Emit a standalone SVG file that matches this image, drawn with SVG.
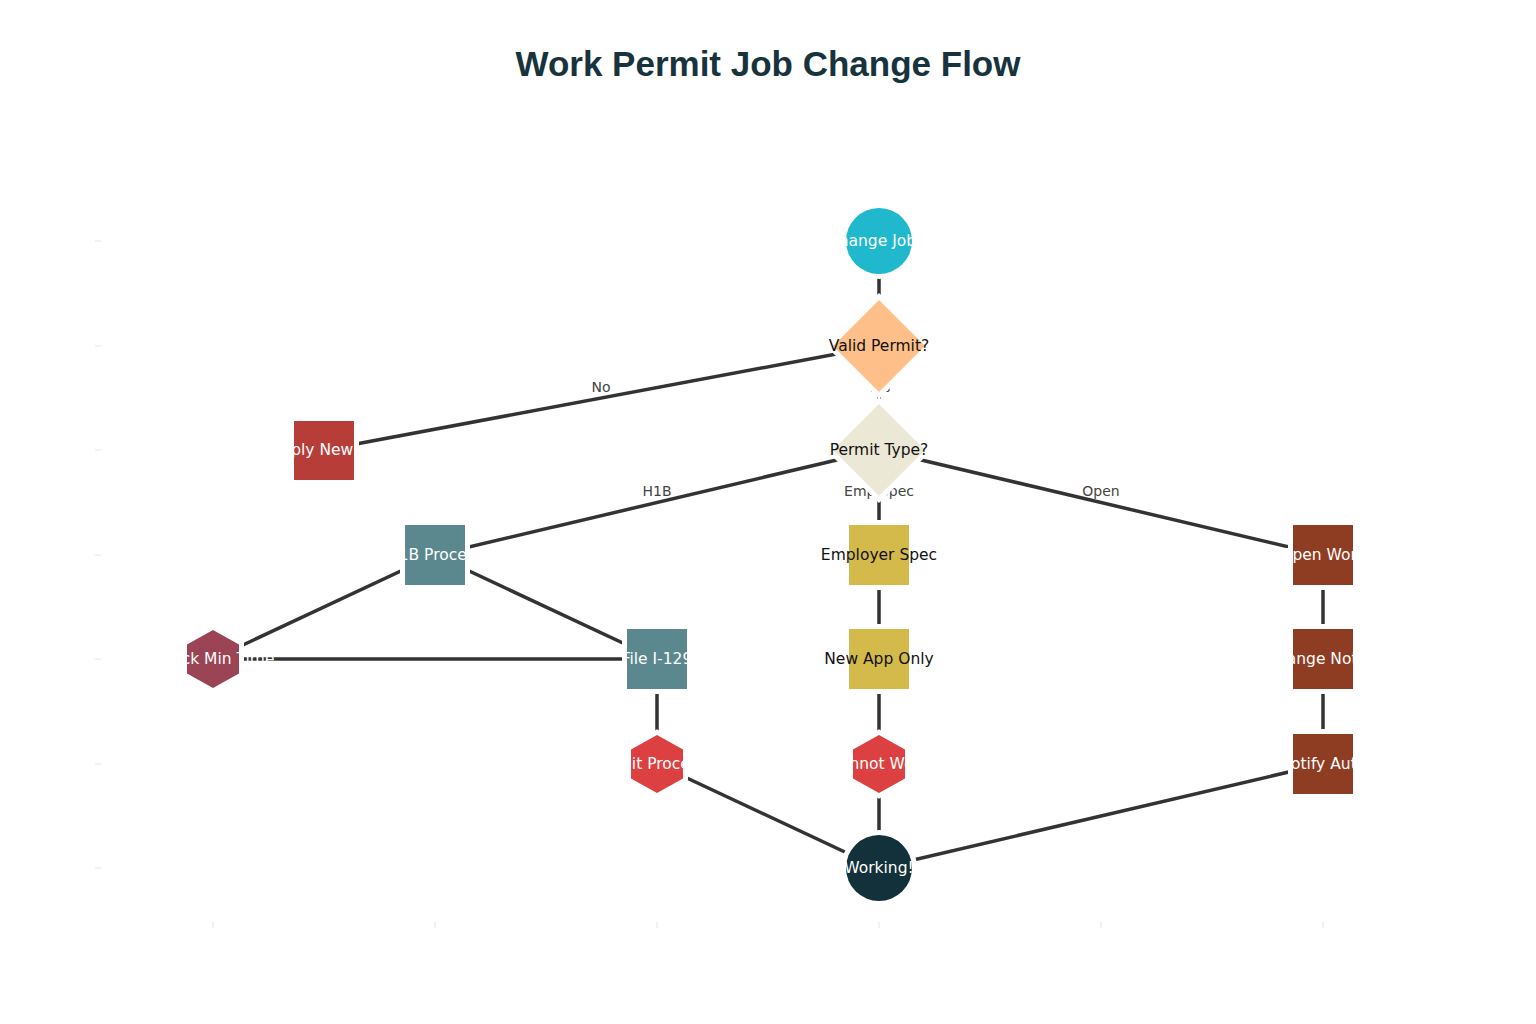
<svg xmlns="http://www.w3.org/2000/svg" width="1536" height="1024" viewBox="0 0 1536 1024">
<style>
.title{font-family:"Liberation Sans",Arial,sans-serif;font-weight:bold;font-size:35px;fill:#17333d}
.edge{stroke:#333;stroke-width:3.5;fill:none}
.elab{font-family:"DejaVu Sans",sans-serif;font-size:14px;fill:#444;text-anchor:middle}
.node{stroke:#fff;stroke-width:10;paint-order:stroke}
.nt{font-family:"DejaVu Sans",sans-serif;font-size:15.5px;fill:#fff;text-anchor:middle}
.nd{fill:#111}
.tick{stroke:#e4e4e4;stroke-width:1}
</style>
<rect width="1536" height="1024" fill="#fff"/>
<text class="title" x="768" y="76" text-anchor="middle">Work Permit Job Change Flow</text>
<g id="axes">
<line class="tick" x1="95" y1="241" x2="101" y2="241"/>
<line class="tick" x1="95" y1="346" x2="101" y2="346"/>
<line class="tick" x1="95" y1="450" x2="101" y2="450"/>
<line class="tick" x1="95" y1="555" x2="101" y2="555"/>
<line class="tick" x1="95" y1="659" x2="101" y2="659"/>
<line class="tick" x1="95" y1="764" x2="101" y2="764"/>
<line class="tick" x1="95" y1="868" x2="101" y2="868"/>
<line class="tick" x1="213" y1="922" x2="213" y2="928"/>
<line class="tick" x1="435" y1="922" x2="435" y2="928"/>
<line class="tick" x1="657" y1="922" x2="657" y2="928"/>
<line class="tick" x1="879" y1="922" x2="879" y2="928"/>
<line class="tick" x1="1101" y1="922" x2="1101" y2="928"/>
<line class="tick" x1="1323" y1="922" x2="1323" y2="928"/>
</g>
<g id="connectors">
<line class="edge" x1="879" y1="241" x2="879" y2="346"/>
<line class="edge" x1="879" y1="346" x2="324" y2="450"/>
<line class="edge" x1="879" y1="346" x2="879" y2="450"/>
<line class="edge" x1="879" y1="450" x2="435" y2="555"/>
<line class="edge" x1="879" y1="450" x2="879" y2="555"/>
<line class="edge" x1="879" y1="450" x2="1323" y2="555"/>
<line class="edge" x1="435" y1="555" x2="213" y2="659"/>
<line class="edge" x1="435" y1="555" x2="657" y2="659"/>
<line class="edge" x1="213" y1="659" x2="657" y2="659"/>
<line class="edge" x1="657" y1="659" x2="657" y2="764"/>
<line class="edge" x1="879" y1="555" x2="879" y2="659"/>
<line class="edge" x1="879" y1="659" x2="879" y2="764"/>
<line class="edge" x1="1323" y1="555" x2="1323" y2="659"/>
<line class="edge" x1="1323" y1="659" x2="1323" y2="764"/>
<line class="edge" x1="657" y1="764" x2="879" y2="868"/>
<line class="edge" x1="879" y1="764" x2="879" y2="868"/>
<line class="edge" x1="1323" y1="764" x2="879" y2="868"/>
<text class="elab" x="601" y="392">No</text>
<text class="elab" x="879" y="392">Yes</text>
<text class="elab" x="657" y="496">H1B</text>
<text class="elab" x="879" y="496">Emp Spec</text>
<text class="elab" x="1101" y="496">Open</text>
</g>
<g id="change-job"><circle class="node" cx="879" cy="241" r="33" fill="#1fb8cc"/><text class="nt" x="872" y="246">Change Job</text></g>
<g id="valid-permit"><polygon class="node" points="879,300 925,346 879,392 833,346" fill="#ffbf88"/><text class="nt nd" x="879" y="351">Valid Permit?</text></g>
<g id="apply-new"><rect class="node" x="294" y="421" width="60" height="59" fill="#b73d39"/><text class="nt" x="312" y="455">Apply New</text></g>
<g id="permit-type"><polygon class="node" points="879,404 925,450 879,496 833,450" fill="#ebe8d5"/><text class="nt nd" x="879" y="455">Permit Type?</text></g>
<g id="h1b-process"><rect class="node" x="405" y="525" width="60" height="60" fill="#5b888f"/><text class="nt" x="435" y="560">H1B Process</text></g>
<g id="employer-spec"><rect class="node" x="849" y="525" width="60" height="60" fill="#d4b94b"/><text class="nt nd" x="879" y="560">Employer Spec</text></g>
<g id="open-work"><rect class="node" x="1293" y="525" width="60" height="60" fill="#8f3d22"/><text class="nt" x="1323" y="560">Open Work</text></g>
<g id="check-min-time"><polygon class="node" points="213,630 239,644.5 239,673.5 213,688 187,673.5 187,644.5" fill="#9b4456"/><text class="nt" x="213" y="664">Check Min Time</text></g>
<g id="file-i129"><rect class="node" x="627" y="629" width="60" height="60" fill="#5b888f"/><text class="nt" x="657" y="664">File I-129</text></g>
<g id="new-app-only"><rect class="node" x="849" y="629" width="60" height="60" fill="#d4b94b"/><text class="nt nd" x="879" y="664">New App Only</text></g>
<g id="change-notice"><rect class="node" x="1293" y="629" width="60" height="60" fill="#8f3d22"/><text class="nt" x="1323" y="664">Change Notice</text></g>
<g id="wait-process"><polygon class="node" points="657,735 683,749.5 683,778.5 657,793 631,778.5 631,749.5" fill="#dc4040"/><text class="nt" x="657" y="769">Wait Process</text></g>
<g id="cannot-work"><polygon class="node" points="879,735 905,749.5 905,778.5 879,793 853,778.5 853,749.5" fill="#dc4040"/><text class="nt" x="879" y="769">Cannot Work</text></g>
<g id="notify-auth"><rect class="node" x="1293" y="734" width="60" height="60" fill="#8f3d22"/><text class="nt" x="1323" y="769">Notify Auth</text></g>
<g id="working"><circle class="node" cx="879" cy="868" r="33" fill="#12313a"/><text class="nt" x="879" y="873">Working!</text></g>
</svg>
